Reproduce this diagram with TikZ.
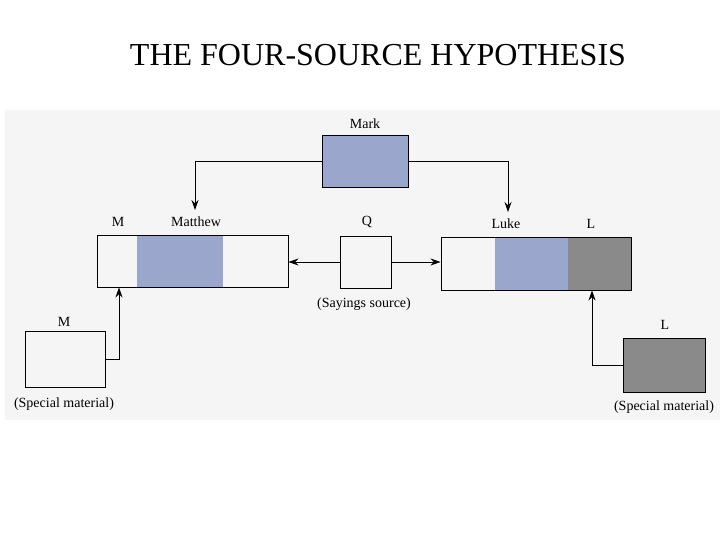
\documentclass[tikz,border=0pt]{standalone}
\usepackage{fontspec}
\setmainfont{Liberation Serif}
\usetikzlibrary{arrows.meta}
\definecolor{bl}{HTML}{9AA6CC}
\definecolor{ck}{HTML}{8A8A8A}
\begin{document}
\begin{tikzpicture}[x=1pt,y=-1pt,
 box/.style={draw,line width=0.9pt,inner sep=0},
 lbl/.style={font=\fontsize{14}{16}\selectfont},
 arr/.style={line width=0.9pt,-{Stealth[length=10pt,width=7pt]}}]
\useasboundingbox (0,0) rectangle (720,540);
\fill[black!4] (5,110) rectangle (720,420);
\node[font=\fontsize{32}{36}\selectfont] (title) at (378,55) {THE FOUR-SOURCE HYPOTHESIS};
% Mark
\fill[bl] (322,135) rectangle (408,187);
\node[box,minimum width=86pt,minimum height=52pt] (mark) at (365,161) {};
\node[lbl] (markl) at (365,124) {Mark};
% Matthew
\fill[bl] (137,235) rectangle (223,287);
\node[box,minimum width=191pt,minimum height=52pt] (mt) at (192.5,261) {};
\node[lbl] (mtm) at (118,222) {M};
\node[lbl] (mtl) at (196,222) {Matthew};
% Q
\node[box,minimum width=51pt,minimum height=52pt] (q) at (365.5,262) {};
\node[lbl] (ql) at (367,222) {Q};
\node[lbl] (qs) at (364,304) {(Sayings source)};
% Luke
\fill[bl] (495,237) rectangle (568,290);
\fill[ck] (568,237) rectangle (631,290);
\node[box,minimum width=190pt,minimum height=53pt] (lk) at (536,263.5) {};
\node[lbl] (lkl) at (506,224) {Luke};
\node[lbl] (lkL) at (591,224) {L};
% M special
\node[box,minimum width=80pt,minimum height=56pt] (m) at (65,359) {};
\node[lbl] (ml) at (64,322) {M};
\node[lbl] (ms) at (64,404) {(Special material)};
% L special
\fill[ck] (623,338) rectangle (705,392);
\node[box,minimum width=82pt,minimum height=54pt] (l) at (664,365) {};
\node[lbl] (ll) at (665,325) {L};
\node[lbl] (ls) at (664,407) {(Special material)};
% arrow ends
\coordinate (mte) at (195,210);
\coordinate (lke) at (508,212);
% arrows
\draw[arr] (mark.west) -| (mte);
\draw[arr] (mark.east) -| (lke);
\draw[arr] (q.west) -- (q.west -| mt.east);
\draw[arr] (q.east) -- (q.east -| lk.west);
\draw[arr] (m.east) -| (mt.south -| 119,0);
\draw[arr] (l.west) -| (lk.south -| 592,0);
\end{tikzpicture}
\end{document}
